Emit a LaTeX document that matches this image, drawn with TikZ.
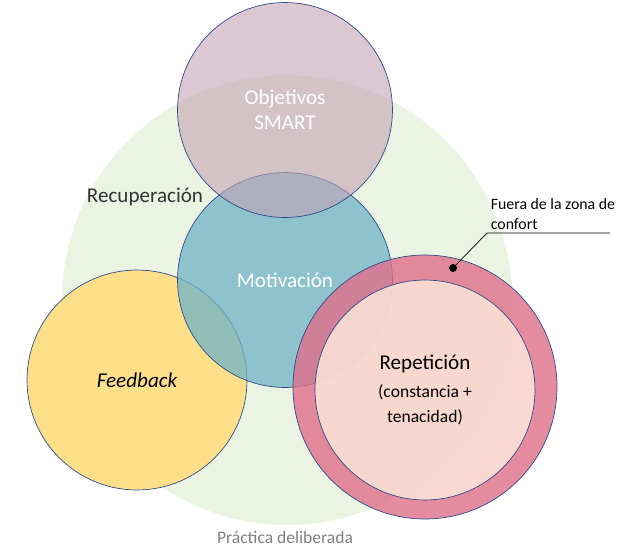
\documentclass[tikz,border=0pt]{standalone}
\usepackage{fontspec}
\setmainfont{Carlito}
\definecolor{fondo}{HTML}{E3F0D6}
\definecolor{borde}{HTML}{2F4A8A}
\definecolor{malva}{HTML}{C4A3B6}
\definecolor{azul}{HTML}{6FB3C8}
\definecolor{amarillo}{HTML}{FDDF8A}
\definecolor{rosa}{HTML}{DF6F8A}
\definecolor{melocoton}{HTML}{FCE6D8}
\begin{document}
\begin{tikzpicture}[x=0.02cm,y=-0.02cm,
  circulo/.style={circle,draw=borde,thin,inner sep=0pt,align=center,text opacity=1,font=\large}]
\useasboundingbox (0,0) rectangle (626,556);

\node[circle,fill=fondo,opacity=0.7,minimum size=9cm](practica) at (287,300){};
\node[circulo,fill=amarillo,minimum size=4.4cm,font=\large\itshape](feedback) at (137,380){Feedback};
\node[circulo,fill=azul,fill opacity=0.75,text=white,minimum size=4.3cm](motivacion) at (285,280){Motivación};
\node[circulo,fill=malva,fill opacity=0.6,text=white,minimum size=4.3cm](objetivos) at (285,110){Objetivos\\SMART};
\node[circulo,fill=rosa,fill opacity=0.8,minimum size=5.28cm](confort) at (425,387){};
\node[circulo,fill=melocoton,fill opacity=0.85,minimum size=4.4cm](repeticion) at (425,390){Repetición\\[2pt]{\normalsize(constancia +}\\{\normalsize tenacidad)}};

\node[font=\large,text=black!80](recuperacion) at (145,197){Recuperación};
\node[text=gray](deliberada) at (285,537){Práctica deliberada};
\node[align=left,anchor=south west,font=\small,inner sep=2pt](fuera) at (487,233){Fuera de la zona de\\confort};

\fill[black] (453,268) coordinate (punto) circle (4);
\coordinate (fin) at (610,233);
\draw[thin] (punto) -- (487,233) -- (fin);

\end{tikzpicture}
\end{document}
